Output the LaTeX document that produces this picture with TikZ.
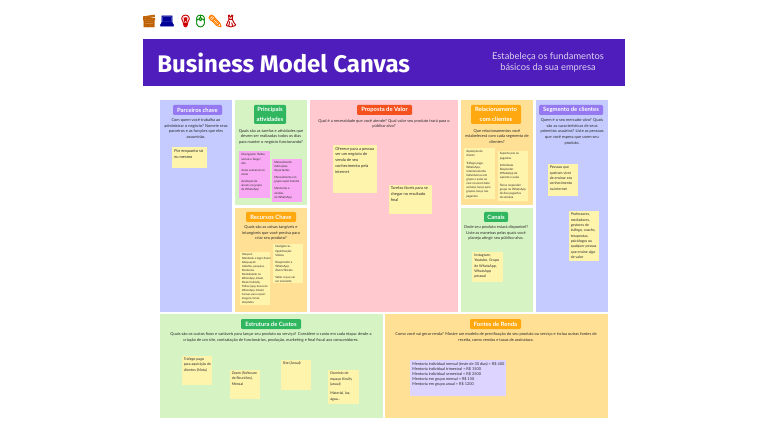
\documentclass[tikz,border=0pt]{standalone}
\usepackage{fontspec}
\setmainfont{Lato}
\newfontfamily\emojifont[FakeBold=2.5]{Noto Emoji}
\newfontfamily\titlefont{Fira Sans}

\definecolor{headerviolet}{HTML}{4F1DBB}
\definecolor{panelblue}{HTML}{C5CBFF}
\definecolor{panelgreen}{HTML}{D6F3C4}
\definecolor{panelyellow}{HTML}{FFE094}
\definecolor{panelpink}{HTML}{FFC9CF}
\definecolor{badgeviolet}{HTML}{9579F0}
\definecolor{badgegreen}{HTML}{2FB65F}
\definecolor{badgeorange}{HTML}{FFA80F}
\definecolor{badgered}{HTML}{F4511E}
\definecolor{noteyellow}{HTML}{FFF4AC}
\definecolor{notepink}{HTML}{F9A9F3}
\definecolor{notelilac}{HTML}{DDD4FF}
\definecolor{inktext}{HTML}{2A2A2A}

\tikzset{
  badge/.style={text=white, inner sep=0pt, align=center,
    font=\bfseries\fontsize{4.4}{7.2}\selectfont},
  question/.style={anchor=north, inner sep=0pt, align=center, text=inktext,
    font=\fontsize{3}{4.2}\selectfont},
  notetext/.style={anchor=north west, inner sep=0pt, align=left, text=inktext,
    font=\fontsize{3}{4.3}\selectfont},
  tinytext/.style={anchor=north west, inner sep=0pt, align=left, text=inktext,
    font=\fontsize{2.2}{3.1}\selectfont},
  smalltext/.style={tinytext, font=\fontsize{2.7}{4}\selectfont},
  icon/.style={inner sep=0pt, font=\emojifont\fontsize{9}{9}\selectfont},
}

\begin{document}
\begin{tikzpicture}[x=0.75pt,y=-0.75pt]
  \useasboundingbox (0,0) rectangle (768,431);
  \fill[white] (0,0) rectangle (768,431);

  % Icons
  \node[icon,text=black!25!orange] (iconclap) at (149,21) {🎬};
  \node[icon,text=blue!60!black] (iconlaptop) at (167,21) {💻};
  \node[icon,text=red!80!black] (iconbulb) at (185.5,21) {💡};
  \node[icon,text=green!55!black] (iconmouse) at (200.5,21) {🖱};
  \node[icon,text=orange] (iconpencil) at (215,21) {✏};
  \node[icon,text=red!75!black] (icondress) at (231,21) {👗};

  % Header
  \fill[headerviolet] (143,39) rectangle (625,86);
  \node[anchor=west,inner sep=0pt,text=white,font=\titlefont\bfseries\fontsize{18}{22}\selectfont] (title) at (157,63)
    {Business Model Canvas};
  \node[inner sep=0pt,align=center,text=white!80!headerviolet,font=\fontsize{7}{8.6}\selectfont] (subtitle) at (548,62.5)
    {Estabeleça os fundamentos\\ básicos da sua empresa};

  % Parceiros chave
  \fill[panelblue] (160,100) rectangle (232,312);
  \fill[badgeviolet,rounded corners=0.8pt] (173,105) rectangle (222,115);
  \node[badge] (parceiros) at (197.5,110) {Parceiros chave};
  \node[question] (parceirosq) at (196,118.5) {Com quem você trabalha ao\\ administrar o negócio? Nomeie seus\\ parceiros e as funções que eles\\ assumirão.};
  \fill[noteyellow] (172,147) rectangle (207,168);
  \node[notetext] (parceirosn) at (174,149.5) {Por enquanto só\\ eu mesmo};

  % Principais atividades
  \fill[panelgreen] (235,100) rectangle (307,205);
  \fill[badgegreen,rounded corners=0.8pt] (254,105) rectangle (286,124);
  \node[badge] (principais) at (270,114.5) {Principais\\ atividades};
  \node[question] (principaisq) at (271,129) {Quais são as tarefas e atividades que\\ devem ser realizadas todos os dias\\ para manter o negócio funcionando?};
  \fill[notepink] (239,151) rectangle (270,198);
  \node[tinytext] (principaisa) at (241,153.5) {Divulgação: Redes\\ sociais e blogs/\\ site\\[2.2pt] Aulas semanais no\\ zoom\\[2.2pt] Avaliação de\\ alunos no grupo\\ de WhatsApp};
  \fill[notepink] (272,159) rectangle (302,202);
  \node[tinytext] (principaisb) at (274,161) {Mensalmente:\\ indicações\\ importantes\\[2.2pt] Mensalmente em\\ grupo experimental\\[2.2pt] Mentorias e\\ vendas\\ no WhatsApp};

  % Recursos Chave
  \fill[panelyellow] (235,208) rectangle (307,312);
  \fill[badgeorange,rounded corners=0.8pt] (246,212) rectangle (296,222);
  \node[badge] (recursos) at (271,217) {Recursos Chave};
  \node[question] (recursosq) at (271,225.5) {Quais são as coisas tangíveis e\\ intangíveis que você precisa para\\ criar seu produto?};
  \fill[noteyellow] (240,252) rectangle (270,305);
  \node[tinytext,font=\fontsize{2.1}{2.8}\selectfont] (recursosa) at (241.5,253.5) {Hotspot:\\ Notebook e login Zoom\\[0.5pt] Adequação:\\ trabalho, pesquisa,\\ Mentorias\\[0.5pt] Mentalidade no\\ WhatsApp, Zoom,\\ Meet/Calendly\\[0.5pt] Trilhas (app, busca de\\ WhatsApp, Zoom)\\[0.5pt] Canvas para copiar:\\ imagem, fonte,\\ templates};
  \fill[noteyellow] (273,244) rectangle (303,283);
  \node[tinytext] (recursosb) at (275,245.5) {Inteligência -\\ Qualificação:\\ Vídeos\\[2.2pt] Reaprender a\\ WhatsApp,\\ Zoom/Sheets\\[2.2pt] Saber o que vai\\ ser ensinado};

  % Proposta de Valor
  \fill[panelpink] (310,100) rectangle (458,312);
  \fill[badgered,rounded corners=0.8pt] (357,105) rectangle (412,115);
  \node[badge] (proposta) at (384.5,110) {Proposta de Valor};
  \node[question] (propostaq) at (384,119) {Qual é a necessidade que você atende? Qual valor seu produto trará para o\\ público-alvo?};
  \fill[noteyellow] (333,145) rectangle (377,193);
  \node[notetext] (propostaa) at (335,147) {Oferece para a pessoa\\ ser um negócio de\\ venda de seu\\ conhecimento pela\\ internet};
  \fill[noteyellow] (389,185) rectangle (432,214);
  \node[notetext] (propostab) at (390.5,186.5) {Tarefas fáceis para se\\ chegar no resultado\\ final};

  % Relacionamento com clientes
  \fill[panelyellow] (461,100) rectangle (533,205);
  \fill[badgeorange,rounded corners=0.8pt] (471,105) rectangle (521,124);
  \node[badge] (relacionamento) at (496,114.5) {Relacionamento\\ com clientes};
  \node[question] (relacionamentoq) at (497,129) {Que relacionamentos você\\ estabelecerá com cada segmento de\\ clientes?};
  \fill[noteyellow] (464,148) rectangle (495,199);
  \node[tinytext] (relacionamentoa) at (466,150) {Aquisição de\\ cliente\\[2.5pt] Tráfego pago,\\ WhatsApp,\\ relacionamento\\ individual ou em\\ grupo e aulas ao\\ vivo no zoom bate\\ semana, lança para\\ grupos, lança nos\\ pagantes};
  \fill[noteyellow] (498,151) rectangle (528,201);
  \node[tinytext] (relacionamentob) at (499.5,152.5) {Suporte pós os\\ pagantes\\[2.5pt] Individuais\\ Responder\\ WhatsApp de\\ suporte e aulas\\[2.5pt] Tenso responder\\ grupo no WhatsApp\\ de dias pagantes\\ da semana};

  % Canais
  \fill[panelgreen] (461,208) rectangle (533,312);
  \fill[badgegreen,rounded corners=0.8pt] (484,212) rectangle (508,222);
  \node[badge] (canais) at (496,217) {Canais};
  \node[question] (canaisq) at (496,225.5) {Onde seu produto estará disponível?\\ Liste as maneiras pelas quais você\\ planeja atingir seu público-alvo.};
  \fill[noteyellow] (472,252) rectangle (503,282);
  \node[smalltext] (canaisn) at (474,253.5) {Instagram,\\ Youtube, Grupo\\ de WhatsApp,\\ WhatsApp\\ pessoal};

  % Segmento de clientes
  \fill[panelblue] (536,100) rectangle (608,312);
  \fill[badgeviolet,rounded corners=0.8pt] (539,105) rectangle (603,115);
  \node[badge] (segmento) at (571,110) {Segmento de clientes};
  \node[question] (segmentoq) at (572,118.5) {Quem é o seu mercado-alvo? Quais\\ são as características de seus\\ primeiros usuários? Liste as pessoas\\ que você espera que usem seu\\ produto.};
  \fill[noteyellow] (548,164) rectangle (578,196);
  \node[smalltext] (segmentoa) at (549.5,166) {Pessoas que\\ queiram viver\\ de ensinar seu\\ conhecimento\\ na internet};
  \fill[noteyellow] (569,211) rectangle (599,261);
  \node[smalltext] (segmentob) at (570.5,213) {Professores,\\ mediadores,\\ gestores de\\ tráfego, coachs,\\ terapeutas,\\ psicólogos ou\\ qualquer pessoa\\ que ensine algo\\ de valor};

  % Estrutura de Custos
  \fill[panelgreen] (160,314) rectangle (383,418);
  \fill[badgegreen,rounded corners=0.8pt] (241,319) rectangle (301,329);
  \node[badge] (custos) at (271,324) {Estrutura de Custos};
  \node[question] (custosq) at (271,332.5) {Quais são os custos fixos e variáveis para lançar seu produto ou serviço? Considere o custo em cada etapa: desde a\\ criação de um site, contratação de funcionários, produção, marketing e final fiscal aos consumidores.};
  \fill[noteyellow] (182,356) rectangle (212,385);
  \node[smalltext] (custosa) at (183.5,357.5) {Tráfego pago\\ para aquisição de\\ clientes (Meta)};
  \fill[noteyellow] (230,370) rectangle (260,399);
  \node[smalltext] (custosb) at (231.5,371.5) {Zoom (Software\\ de Reuniões),\\ Mensal};
  \fill[noteyellow] (281,360) rectangle (311,390);
  \node[smalltext] (custosc) at (282.5,361.5) {Site (Anual)};
  \fill[noteyellow] (328,370) rectangle (359,404);
  \node[smalltext] (custosd) at (330,372) {Domínio de\\ espaço Kiwify\\ (anual)\\[3pt] Material, luz,\\ água...};

  % Fontes de Renda
  \fill[panelyellow] (385,314) rectangle (608,418);
  \fill[badgeorange,rounded corners=0.8pt] (470,319) rectangle (521,329);
  \node[badge] (fontes) at (495.5,324) {Fontes de Renda};
  \node[question] (fontesq) at (496,332.5) {Como você vai gerar renda? Mostre um modelo de precificação do seu produto ou serviço e inclua outras fontes de\\ receita, como vendas e taxas de assinatura.};
  \fill[notelilac] (410,360) rectangle (506,396);
  \node[tinytext,font=\fontsize{2.9}{3.8}\selectfont] (fontesn) at (412,362) {Mentoria individual mensal (teste de 30 dias) = R\$ 400\\ Mentoria individual trimestral = R\$ 1500\\ Mentoria individual semestral = R\$ 2500\\ Mentoria em grupo mensal = R\$ 150\\ Mentoria em grupo anual = R\$ 1200};
\end{tikzpicture}
\end{document}
